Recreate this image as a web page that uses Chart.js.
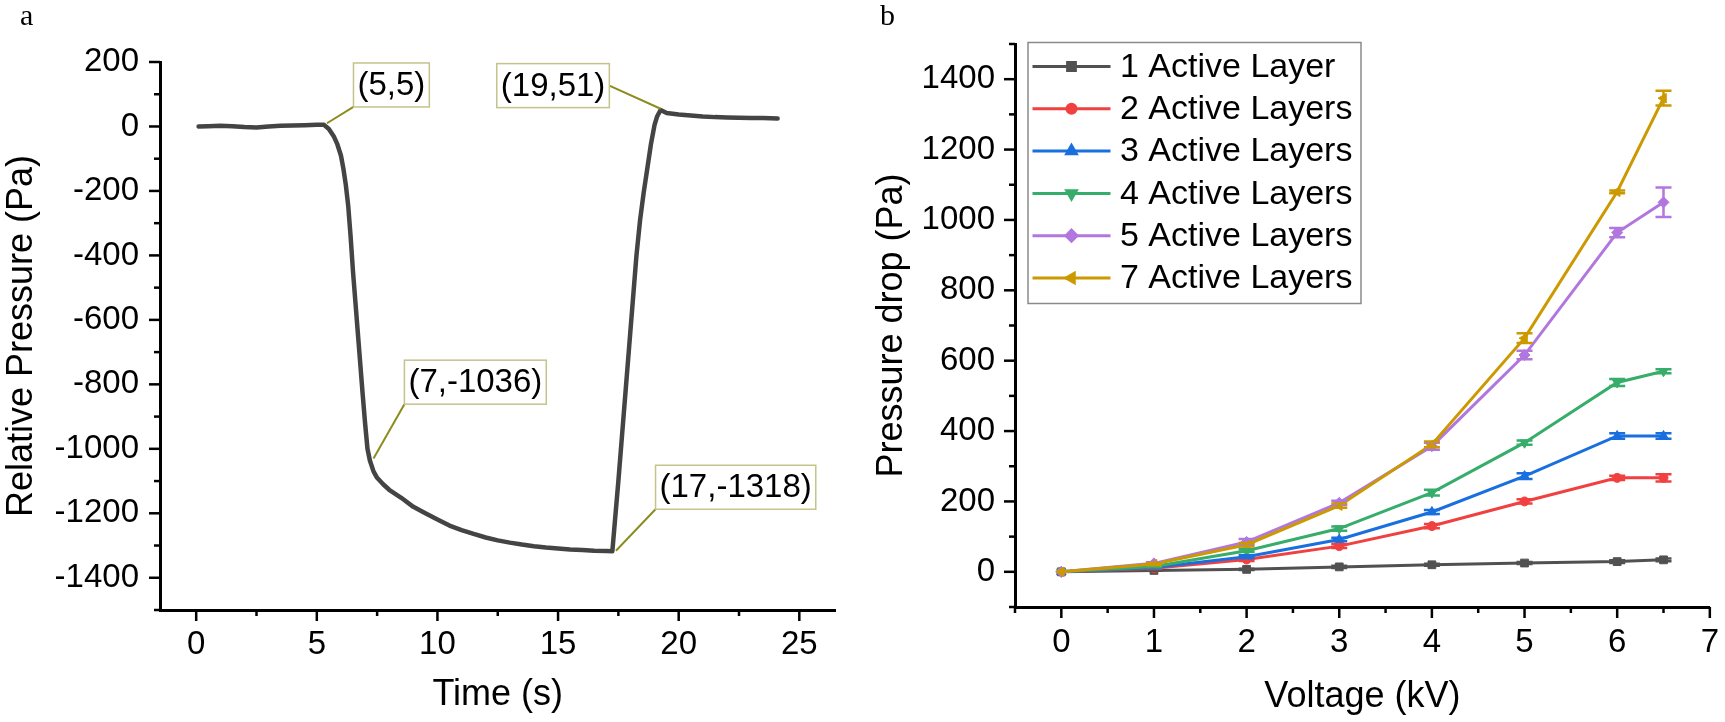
<!DOCTYPE html>
<html>
<head>
<meta charset="utf-8">
<title>Pressure vs time and voltage</title>
<script src="https://cdn.jsdelivr.net/npm/chart.js@4.4.0/dist/chart.umd.min.js"></script>
<style>
  body { margin: 0; background: #fff; width: 1725px; height: 722px; overflow: hidden; position: relative; }
  .panel { position: absolute; top: 0; height: 722px; }
  #wrapA { left: 0; width: 860px; }
  #wrapB { left: 860px; width: 865px; }
  .tag { position: absolute; top: 0; font-family: "Liberation Serif", "Times New Roman", serif; font-size: 30px; line-height: 30px; color: #000; }
</style>
</head>
<body>
<div class="panel" id="wrapA"><canvas id="chartA"></canvas></div>
<div class="panel" id="wrapB"><canvas id="chartB"></canvas></div>
<div class="tag" style="left:20px">a</div>
<div class="tag" style="left:880px">b</div>

<script>
// ---------- panel a : relative pressure trace ----------
const timeS = [0.1, 0.5, 1.0, 1.5, 2.0, 2.5, 3.0, 3.5, 4.0, 4.5, 5.0, 5.3, 5.5, 5.7, 5.85, 6.0, 6.1, 6.2, 6.3, 6.4,
    6.5, 6.6, 6.7, 6.8, 6.9, 7.0, 7.1, 7.2, 7.35, 7.5, 7.75, 8.0, 8.5, 9.0, 9.5, 10.0, 10.5, 11.0, 11.5, 12.0,
    12.5, 13.0, 13.5, 14.0, 14.5, 15.0, 15.5, 16.0, 16.5, 17.0, 17.25, 17.35, 17.5, 17.65, 17.8, 17.95, 18.1, 18.25, 18.4, 18.55,
    18.7, 18.85, 19.0, 19.1, 19.25, 19.5, 20.0, 20.5, 21.0, 21.5, 22.0, 22.5, 23.0, 23.5, 24.1];
const relPressure = [0, 1, 2, 1, -2, -3, 0, 2, 3, 4, 5, 5, -8, -30, -55, -90, -130, -180, -245, -340,
    -450, -545, -640, -735, -830, -920, -1000, -1036, -1070, -1090, -1110, -1127, -1152, -1180, -1200, -1219, -1238, -1252, -1264, -1275,
    -1284, -1291, -1297, -1302, -1306, -1309, -1312, -1314, -1316, -1317, -1318, -1230, -1100, -960, -820, -680, -540, -400, -290, -205,
    -130, -55, 5, 30, 51, 42, 37, 34, 31, 29, 28, 27, 26, 26, 25];

const calloutText = ['(5,5)', '(19,51)', '(7,-1036)', '(17,-1318)'];
const calloutPoint = [[5.42, 10], [19.25, 55], [7.35, -1030], [17.4, -1316]];
const calloutCorner = [[6.52, 197], [12.46, 195], [8.63, -725], [19.04, -1051]];
const calloutSide = ['bottom', 'right', 'bottom', 'bottom'];

// ---------- panel b : pressure drop vs voltage ----------
const voltageKV = [0, 1, 2, 3, 4, 5, 6, 6.5];
const layerNames = ['1 Active Layer', '2 Active Layers', '3 Active Layers', '4 Active Layers', '5 Active Layers', '7 Active Layers'];
const layerColors = ['#515151', '#F14040', '#1A6FDF', '#37AD6B', '#B177DE', '#CC9900'];
const layerMarkers = ['rect', 'circle', 'triangle', 'triangle', 'rectRot', 'triangle'];
const markerTurn = [0, 0, 0, 180, 0, 270];

const drop1Layer = [0, 4, 7, 14, 20, 25, 29, 34];
const drop2Layers = [0, 10, 35, 73, 130, 200, 267, 267];
const drop3Layers = [0, 12, 43, 92, 170, 272, 386, 386];
const drop4Layers = [0, 15, 60, 123, 225, 367, 538, 570];
const drop5Layers = [0, 24, 85, 196, 357, 616, 964, 1050];
const drop7Layers = [0, 22, 77, 188, 362, 664, 1080, 1346];

const err1Layer = [0, 1, 2, 3, 3, 3, 4, 4];
const err2Layers = [0, 2, 4, 5, 6, 6, 6, 10];
const err3Layers = [0, 2, 4, 5, 6, 8, 8, 8];
const err4Layers = [0, 2, 4, 6, 8, 6, 10, 6];
const err5Layers = [0, 3, 8, 6, 10, 12, 13, 42];
const err7Layers = [0, 3, 5, 6, 8, 14, 4, 21];

const layerDrops = [drop1Layer, drop2Layers, drop3Layers, drop4Layers, drop5Layers, drop7Layers];
const layerErrors = [err1Layer, err2Layers, err3Layers, err4Layers, err5Layers, err7Layers];

Chart.defaults.font.family = '"Liberation Sans", Arial, sans-serif';
Chart.defaults.color = '#000';

// outward tick marks, long for labelled ticks and short for the others
const axisTicks = {
    id: 'axisTicks',
    afterDraw(chart) {
        const ctx = chart.ctx;
        const xs = chart.scales.x;
        const ys = chart.scales.y;
        const area = chart.chartArea;
        ctx.save();
        ctx.strokeStyle = '#000';
        ctx.lineWidth = 2.5;
        xs.ticks.forEach(t => {
            const px = xs.getPixelForValue(t.value);
            const len = t.label !== '' ? 11 : 6;
            ctx.beginPath();
            ctx.moveTo(px, area.bottom);
            ctx.lineTo(px, area.bottom + len);
            ctx.stroke();
        });
        ys.ticks.forEach(t => {
            const py = ys.getPixelForValue(t.value);
            const len = t.label !== '' ? 11 : 6;
            ctx.beginPath();
            ctx.moveTo(area.left, py);
            ctx.lineTo(area.left - len, py);
            ctx.stroke();
        });
        ctx.restore();
    }
};

const callouts = {
    id: 'callouts',
    afterDatasetsDraw(chart) {
        const ctx = chart.ctx;
        const xs = chart.scales.x;
        const ys = chart.scales.y;
        ctx.save();
        ctx.font = '33px "Liberation Sans", Arial, sans-serif';
        calloutText.forEach((text, i) => {
            const bx = xs.getPixelForValue(calloutCorner[i][0]);
            const by = ys.getPixelForValue(calloutCorner[i][1]);
            const w = ctx.measureText(text).width + 8;
            const h = 44;
            const px = xs.getPixelForValue(calloutPoint[i][0]);
            const py = ys.getPixelForValue(calloutPoint[i][1]);
            let sx = bx, sy = by + h;
            if (calloutSide[i] === 'right') {
                sx = bx + w;
                sy = by + h / 2;
            }
            ctx.strokeStyle = '#8c8c1e';
            ctx.lineWidth = 2;
            ctx.beginPath();
            ctx.moveTo(sx, sy);
            ctx.lineTo(px, py);
            ctx.stroke();

            ctx.fillStyle = '#fff';
            ctx.fillRect(bx, by, w, h);
            ctx.strokeStyle = '#c3c38c';
            ctx.lineWidth = 1.5;
            ctx.strokeRect(bx, by, w, h);
            ctx.fillStyle = '#000';
            ctx.textAlign = 'center';
            ctx.textBaseline = 'middle';
            ctx.fillText(text, bx + w / 2, by + h / 2 + 1);
        });
        ctx.restore();
    }
};

const errorBars = {
    id: 'errorBars',
    afterDatasetsDraw(chart) {
        const ctx = chart.ctx;
        const xs = chart.scales.x;
        const ys = chart.scales.y;
        ctx.save();
        ctx.lineWidth = 2.5;
        for (let s = 0; s < layerDrops.length; s++) {
            ctx.strokeStyle = layerColors[s];
            voltageKV.forEach((v, i) => {
                const e = layerErrors[s][i];
                if (!e) return;
                const px = xs.getPixelForValue(v);
                const top = ys.getPixelForValue(layerDrops[s][i] + e);
                const bot = ys.getPixelForValue(layerDrops[s][i] - e);
                ctx.beginPath();
                ctx.moveTo(px, top); ctx.lineTo(px, bot);
                ctx.moveTo(px - 8, top); ctx.lineTo(px + 8, top);
                ctx.moveTo(px - 8, bot); ctx.lineTo(px + 8, bot);
                ctx.stroke();
            });
        }
        ctx.restore();
    }
};

const boxLegend = {
    id: 'boxLegend',
    afterDraw(chart) {
        const ctx = chart.ctx;
        const area = chart.chartArea;
        const left = area.left + 13;
        const top = area.top - 1.5;
        const rowH = 42.3;
        ctx.save();
        ctx.strokeStyle = '#8a8a8a';
        ctx.lineWidth = 1.5;
        ctx.strokeRect(left, top, 333, 261);
        ctx.font = '34px "Liberation Sans", Arial, sans-serif';
        ctx.textAlign = 'left';
        ctx.textBaseline = 'middle';
        chart.data.datasets.forEach((ds, i) => {
            const y = top + 24 + i * rowH;
            ctx.strokeStyle = ds.borderColor;
            ctx.fillStyle = ds.borderColor;
            ctx.lineWidth = 3;
            ctx.beginPath();
            ctx.moveTo(left + 4.5, y);
            ctx.lineTo(left + 82.5, y);
            ctx.stroke();
            Chart.helpers.drawPoint(ctx, {
                pointStyle: ds.pointStyle,
                rotation: ds.pointRotation,
                radius: ds.pointRadius,
                borderWidth: 1
            }, left + 43.5, y);
            ctx.fillStyle = '#000';
            ctx.fillText(ds.label, left + 92, y + 1);
        });
        ctx.restore();
    }
};

function axisStyle() {
    return {
        grid: { display: true, drawOnChartArea: false, drawTicks: true, tickLength: 10, color: 'transparent' },
        border: { display: true, color: '#000', width: 3 }
    };
}

const traceData = timeS.map((t, i) => ({ x: t, y: relPressure[i] }));

new Chart(document.getElementById('chartA'), {
    type: 'line',
    data: {
        datasets: [{
            data: traceData,
            borderColor: '#444444',
            borderWidth: 4.5,
            pointRadius: 0,
            tension: 0,
            borderJoinStyle: 'round',
            borderCapStyle: 'round'
        }]
    },
    options: {
        responsive: true,
        maintainAspectRatio: false,
        animation: false,
        layout: { padding: { top: 62, right: 24.5, left: 0, bottom: 0 } },
        plugins: { legend: { display: false }, tooltip: { enabled: false } },
        scales: {
            x: {
                type: 'linear', min: -1.5, max: 26.5,
                ...axisStyle(),
                ticks: { stepSize: 2.5, includeBounds: false, autoSkip: false, maxRotation: 0, padding: 5, font: { size: 33 },
                    callback: v => (v % 5 === 0 ? String(v) : '') },
                title: { display: true, text: 'Time (s)', font: { size: 36 }, padding: { top: 0, bottom: 5 } },
                afterFit: scale => { scale.height = 112; }
            },
            y: {
                type: 'linear', min: -1500, max: 200,
                ...axisStyle(),
                ticks: { stepSize: 100, autoSkip: false, padding: 11, font: { size: 33 },
                    callback: v => (v % 200 === 0 ? String(v) : '') },
                title: { display: true, text: 'Relative Pressure (Pa)', font: { size: 36 }, padding: { top: 0, bottom: 0 } },
                afterFit: scale => { scale.width = 160; }
            }
        }
    },
    plugins: [axisTicks, callouts]
});

const layerSets = layerNames.map((name, s) => ({
    label: name,
    data: voltageKV.map((v, i) => ({ x: v, y: layerDrops[s][i] })),
    borderColor: layerColors[s],
    backgroundColor: layerColors[s],
    pointBackgroundColor: layerColors[s],
    pointBorderColor: layerColors[s],
    borderWidth: 3,
    pointStyle: layerMarkers[s],
    pointRotation: markerTurn[s],
    pointRadius: layerMarkers[s] === 'circle' ? 4.5 : 5.5,
    pointBorderWidth: 1,
    tension: 0,
    order: layerNames.length - s
}));

new Chart(document.getElementById('chartB'), {
    type: 'line',
    data: { datasets: layerSets },
    options: {
        responsive: true,
        maintainAspectRatio: false,
        animation: false,
        layout: { padding: { top: 44, right: 9.5, left: 0, bottom: 0 } },
        plugins: { legend: { display: false }, tooltip: { enabled: false } },
        scales: {
            x: {
                type: 'linear', min: -0.5, max: 7,
                ...axisStyle(),
                ticks: { stepSize: 0.5, autoSkip: false, maxRotation: 0, padding: 6, font: { size: 33 },
                    callback: v => (Number.isInteger(v) ? String(v) : '') },
                title: { display: true, text: 'Voltage (kV)', font: { size: 36 }, padding: { top: 0, bottom: 3 } },
                afterFit: scale => { scale.height = 115; }
            },
            y: {
                type: 'linear', min: -100, max: 1500,
                ...axisStyle(),
                ticks: { stepSize: 100, autoSkip: false, padding: 10, font: { size: 33 },
                    callback: v => (v % 200 === 0 && v >= 0 && v <= 1400 ? String(v) : '') },
                title: { display: true, text: 'Pressure drop (Pa)', font: { size: 36 }, padding: { top: 10, bottom: 0 } },
                afterFit: scale => { scale.width = 155; }
            }
        }
    },
    plugins: [axisTicks, errorBars, boxLegend]
});
</script>
</body>
</html>
